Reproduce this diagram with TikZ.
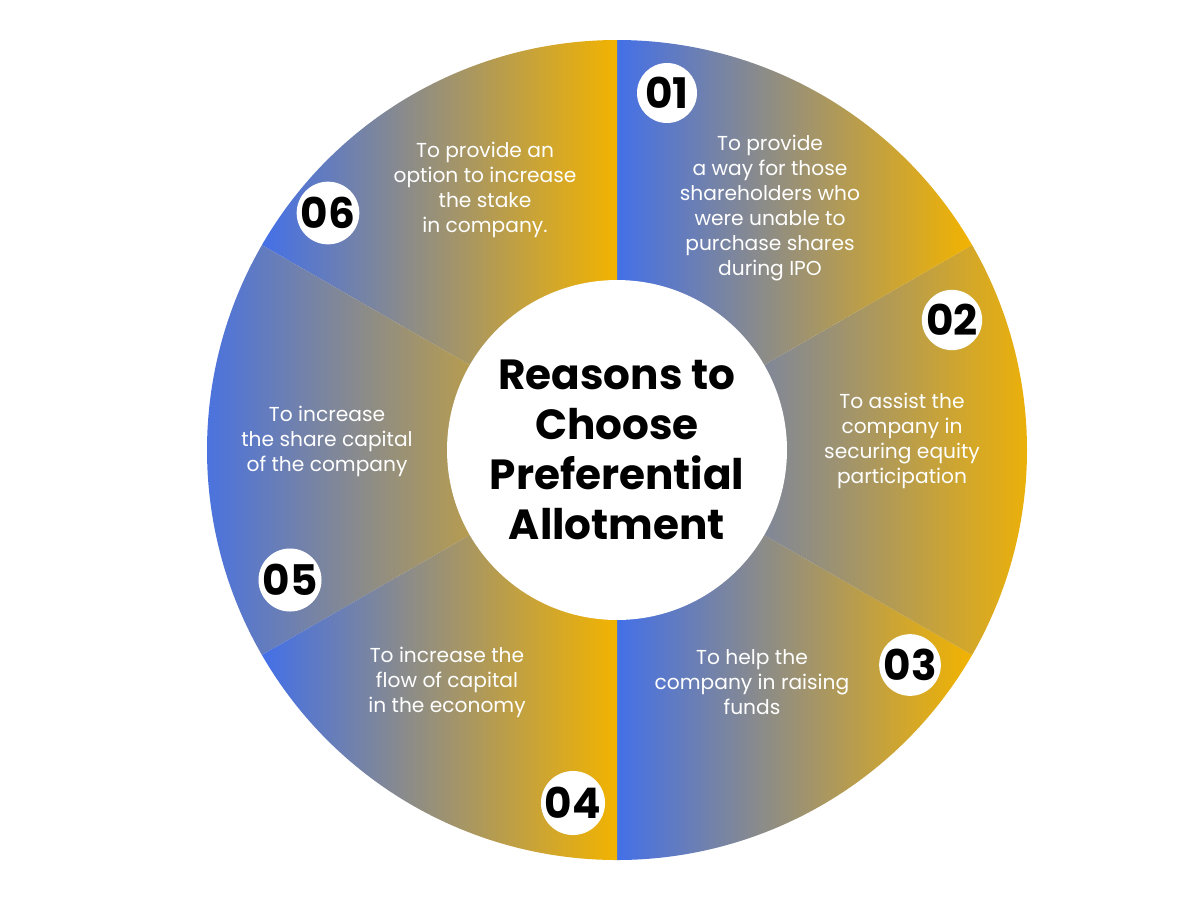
\documentclass[tikz,border=0pt]{standalone}
\usepackage{fontspec}
\setmainfont{Poppins}
\begin{document}
\begin{tikzpicture}[x=0.02cm,y=-0.02cm]
\definecolor{cb}{HTML}{4470E8}
\definecolor{cy}{HTML}{F2B300}
\tikzset{sect/.style={left color=cb,right color=cy,shading angle=90},
 num/.style={circle,fill=white,minimum size=1.2cm,inner sep=0pt,font=\fontsize{24}{24}\selectfont\bfseries},
 txt/.style={align=center,text=white,font=\fontsize{11.5}{14.2}\selectfont}}
\useasboundingbox (0,0) rectangle (1200,900);
\coordinate (c) at (617,450);
\foreach \a in {90,30,-30,-90,-150,150}{
  \shade[left color=cb,right color=cy] (c) -- ++(\a:410) arc[start angle=\a,delta angle=-60,radius=410] -- cycle;
}
\node[circle,fill=white,minimum size=6.8cm,inner sep=0pt,align=center,font=\fontsize{24}{28.5}\selectfont\bfseries] (hub) at (c) {Reasons to\\Choose\\Preferential\\Allotment};
\node[num] (n1) at (667,93) {01};
\node[num] (n2) at (952,320) {02};
\node[num] (n3) at (910,665) {03};
\node[num] (n4) at (573,803) {04};
\node[num] (n5) at (290,580) {05};
\node[num] (n6) at (328,213) {06};
\node[txt] (t1) at (770,208) {To provide\\a way for those\\shareholders who\\were unable to\\purchase shares\\during IPO};
\node[txt] (t2) at (902,441) {To assist the\\company in\\securing equity\\participation};
\node[txt] (t3) at (752,682) {To help the\\company in raising\\funds};
\node[txt] (t4) at (447,682) {To increase the\\flow of capital\\in the economy};
\node[txt] (t5) at (327,441) {To increase\\the share capital\\of the company};
\node[txt] (t6) at (485,190) {To provide an\\option to increase\\the stake\\in company.};
\end{tikzpicture}
\end{document}
